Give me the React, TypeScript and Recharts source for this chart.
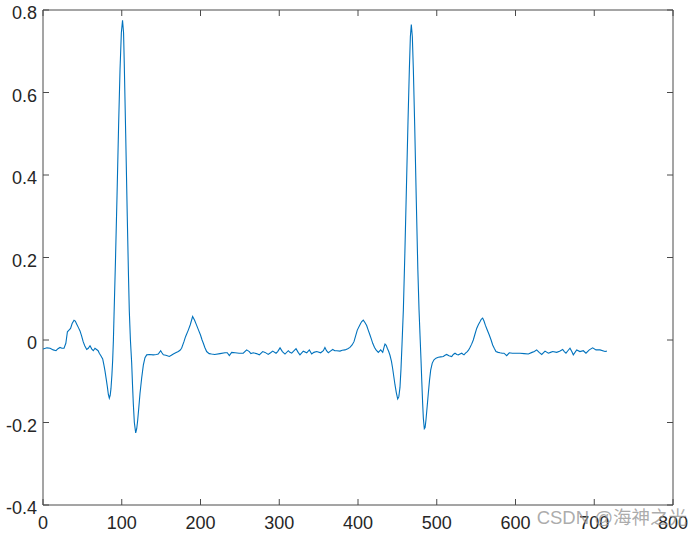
import React from "react";
import { LineChart, Line, XAxis, YAxis, ReferenceArea } from "recharts";

const CHART_W = 692;
const CHART_H = 538;
const MARGIN = { top: 10, right: 19, bottom: 0, left: 0 };
const Y_AXIS_W = 43;
const X_AXIS_H = 33;
const PLOT_TOP = MARGIN.top;
const PLOT_RIGHT = CHART_W - MARGIN.right;
const TICK_LEN = 6;
const AXIS_COLOR = "#4a4a4a";
const TEXT_COLOR = "#262626";
const FONT = "'Liberation Sans', Arial, sans-serif";
const FONT_SIZE = 18;

const xTicks = [0, 100, 200, 300, 400, 500, 600, 700, 800];
const yTicks = [-0.4, -0.2, 0, 0.2, 0.4, 0.6, 0.8];

const ecgX = [
  0, 5, 9, 13, 16.5, 19, 21.6, 24, 26.7, 29, 31, 33, 35, 37, 39.4, 41, 42.7, 45, 47, 49,
  51, 53, 55.5, 57.5, 59.7, 62, 63.9, 66, 68, 70, 71.5, 73.5, 75.8, 77.5, 78.7, 80.3, 81.7, 83, 84.2, 85.3,
  86.3, 87.5, 88.5, 89.4, 90.2, 92, 94, 96, 97.8, 99.5, 101, 102.3, 103.2, 105, 107, 108.5, 109.6, 111, 112.6, 113.7,
  114.7, 116, 117.7, 119, 120.2, 121.7, 123.2, 125.3, 127.4, 129.5, 131.7, 135, 140, 144, 146.4, 149.4, 151, 152.8, 156, 160.4,
  163, 165.5, 168.5, 171.8, 174, 176, 179, 181, 184.5, 187, 190, 192.5, 195, 197.5, 200, 202, 203.6, 205.5, 207.8, 211,
  214, 218, 224.8, 231, 234, 236.6, 239.6, 244, 249, 254.3, 258.6, 262, 264, 267, 271, 274.7, 279, 282, 286, 289,
  291.7, 295.9, 298, 301, 304, 307.3, 311.5, 313.5, 315.8, 321.3, 324, 326.3, 330.5, 334.9, 338.2, 341.2, 344, 347.6, 352.6, 356,
  358, 360, 362.3, 365, 367.9, 370.5, 373, 377.1, 380, 383.5, 387, 389.8, 392.5, 394.9, 397, 399.1, 402.5, 404.5, 406.7, 409,
  411, 413, 415.2, 417, 418.7, 421, 422.9, 425.8, 428.8, 431.4, 433, 434.3, 435.8, 437.2, 439, 440.6, 442.5, 444, 445.5, 447,
  448.7, 450.4, 451.8, 453.3, 454.6, 455.9, 457.6, 459.5, 461.5, 463.5, 465.2, 466.5, 467.7, 469, 470.3, 472, 474, 476, 477.5, 479,
  480, 481, 482.1, 483, 484.2, 485.2, 486.3, 487.8, 489.3, 490.8, 492.3, 494.3, 496.5, 499, 502, 505, 508.3, 510.5, 512.6, 515.5,
  519, 521, 523.2, 525.5, 527.4, 529.5, 531.7, 533, 534.6, 536.5, 538.8, 540.5, 542.2, 544.3, 546.4, 548.5, 550.7, 552.8, 554.9, 556.5,
  558.3, 560, 561.7, 564, 566.7, 569, 571, 573, 575.2, 578, 580.3, 583, 585.4, 588.8, 592.1, 596, 601.5, 605.7, 611, 616.3,
  621, 624, 626.9, 630, 633.3, 637.5, 641.7, 644.5, 647.2, 652.3, 656, 659.9, 662, 664.1, 666.5, 669.2, 671.5, 673.4, 677.7, 681.9,
  686.1, 689.5, 693.7, 698, 702.2, 707.3, 713.7, 716,
];

const ecgY = [
  -0.022, -0.019, -0.02, -0.024, -0.026, -0.021, -0.018, -0.02, -0.02, -0.008, 0.02, 0.024, 0.028, 0.04, 0.048, 0.046, 0.039, 0.03, 0.022, 0.01,
  -0.004, -0.014, -0.023, -0.02, -0.014, -0.022, -0.026, -0.02, -0.023, -0.026, -0.032, -0.038, -0.046, -0.062, -0.075, -0.095, -0.113, -0.132, -0.141, -0.134,
  -0.118, -0.085, -0.048, 0.0, 0.06, 0.19, 0.35, 0.52, 0.655, 0.745, 0.775, 0.745, 0.67, 0.5, 0.3, 0.16, 0.07, 0.0, -0.055, -0.11,
  -0.155, -0.2, -0.225, -0.215, -0.195, -0.163, -0.129, -0.092, -0.061, -0.043, -0.036, -0.035, -0.036, -0.035, -0.034, -0.026, -0.031, -0.036, -0.037, -0.04,
  -0.037, -0.034, -0.031, -0.028, -0.025, -0.02, -0.004, 0.008, 0.024, 0.037, 0.057, 0.048, 0.036, 0.024, 0.012, 0.0, -0.008, -0.018, -0.028, -0.033,
  -0.034, -0.035, -0.033, -0.031, -0.031, -0.038, -0.03, -0.031, -0.032, -0.032, -0.024, -0.028, -0.033, -0.031, -0.033, -0.036, -0.028, -0.03, -0.035, -0.031,
  -0.027, -0.032, -0.028, -0.019, -0.028, -0.034, -0.026, -0.03, -0.032, -0.021, -0.03, -0.036, -0.027, -0.031, -0.024, -0.034, -0.03, -0.028, -0.031, -0.026,
  -0.018, -0.026, -0.031, -0.027, -0.023, -0.026, -0.026, -0.027, -0.025, -0.024, -0.021, -0.018, -0.012, -0.004, 0.01, 0.024, 0.037, 0.044, 0.048, 0.042,
  0.035, 0.024, 0.012, 0.002, -0.008, -0.018, -0.024, -0.03, -0.024, -0.03, -0.018, -0.01, -0.013, -0.02, -0.028, -0.037, -0.052, -0.069, -0.089, -0.109,
  -0.128, -0.143, -0.138, -0.115, -0.07, -0.01, 0.073, 0.21, 0.37, 0.53, 0.655, 0.735, 0.765, 0.735, 0.655, 0.52, 0.34, 0.17, 0.073, 0.0,
  -0.048, -0.1, -0.154, -0.19, -0.215, -0.212, -0.194, -0.162, -0.129, -0.098, -0.073, -0.056, -0.048, -0.044, -0.042, -0.041, -0.04, -0.037, -0.035, -0.038,
  -0.04, -0.035, -0.032, -0.035, -0.036, -0.034, -0.032, -0.034, -0.036, -0.032, -0.028, -0.024, -0.018, -0.01, 0.0, 0.014, 0.028, 0.037, 0.044, 0.05,
  0.053, 0.046, 0.036, 0.025, 0.012, 0.0, -0.012, -0.02, -0.028, -0.03, -0.031, -0.032, -0.032, -0.038, -0.031, -0.032, -0.032, -0.032, -0.033, -0.034,
  -0.03, -0.028, -0.024, -0.03, -0.035, -0.027, -0.032, -0.03, -0.028, -0.03, -0.027, -0.023, -0.028, -0.032, -0.026, -0.02, -0.028, -0.036, -0.024, -0.028,
  -0.026, -0.032, -0.024, -0.019, -0.024, -0.024, -0.028, -0.027,
];

const data = ecgX.map((x, i) => ({ x, y: ecgY[i] }));

const XTick = (props: any) => {
  const { x, y, payload } = props;
  return (
    <g>
      <line x1={x} y1={y} x2={x} y2={y - TICK_LEN} stroke={AXIS_COLOR} strokeWidth={1} />
      <line x1={x} y1={PLOT_TOP} x2={x} y2={PLOT_TOP + TICK_LEN} stroke={AXIS_COLOR} strokeWidth={1} />
      <text x={x} y={y + 24} textAnchor="middle" fill={TEXT_COLOR} fontFamily={FONT} fontSize={FONT_SIZE}>
        {String(payload.value)}
      </text>
    </g>
  );
};

const YTick = (props: any) => {
  const { x, y, payload } = props;
  return (
    <g>
      <line x1={x} y1={y} x2={x + TICK_LEN} y2={y} stroke={AXIS_COLOR} strokeWidth={1} />
      <line x1={PLOT_RIGHT - TICK_LEN} y1={y} x2={PLOT_RIGHT} y2={y} stroke={AXIS_COLOR} strokeWidth={1} />
      <text x={x - 6} y={y + 9} textAnchor="end" fill={TEXT_COLOR} fontFamily={FONT} fontSize={FONT_SIZE}>
        {String(payload.value)}
      </text>
    </g>
  );
};

export default function App() {
  return (
    <div style={{ position: "absolute", left: 0, top: 0, width: CHART_W, height: CHART_H, background: "#fff" }}>
      <LineChart width={CHART_W} height={CHART_H} data={data} margin={MARGIN}>
        <XAxis
          dataKey="x"
          type="number"
          domain={[0, 800]}
          ticks={xTicks}
          interval={0}
          height={X_AXIS_H}
          axisLine={false}
          tickLine={false}
          tickSize={0}
          tickMargin={0}
          tick={<XTick />}
          allowDataOverflow
        />
        <YAxis
          type="number"
          domain={[-0.4, 0.8]}
          ticks={yTicks}
          interval={0}
          width={Y_AXIS_W}
          axisLine={false}
          tickLine={false}
          tickSize={0}
          tickMargin={0}
          tick={<YTick />}
          allowDataOverflow
        />
        <Line
          type="linear"
          dataKey="y"
          stroke="#0072BD"
          strokeWidth={1.1}
          dot={false}
          activeDot={false}
          isAnimationActive={false}
        />
        <ReferenceArea
          x1={0}
          x2={800}
          y1={-0.4}
          y2={0.8}
          fill="none"
          fillOpacity={0}
          stroke={AXIS_COLOR}
          strokeWidth={1}
          ifOverflow="visible"
        />
      </LineChart>
      <div
        style={{
          position: "absolute",
          right: 5,
          top: 506,
          fontFamily: "'Liberation Sans', 'Noto Sans CJK SC', sans-serif",
          fontSize: 18.5,
          color: "rgba(150,150,150,0.8)",
          whiteSpace: "nowrap",
          lineHeight: "24px",
        }}
      >
        CSDN @海神之光
      </div>
    </div>
  );
}
